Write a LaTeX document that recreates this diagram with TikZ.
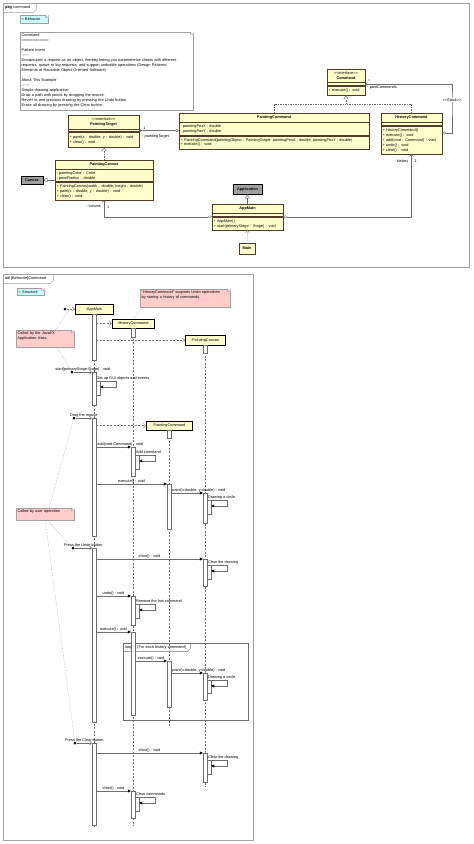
\documentclass[tikz,border=0pt]{standalone}
\usepackage{fontspec}
\setmainfont{Liberation Sans}[Ligatures=TeXOff]
\usetikzlibrary{positioning}
\usetikzlibrary{arrows.meta}
\usetikzlibrary{calc}

\definecolor{clsfill}{RGB}{255,255,204}
\definecolor{clsline}{RGB}{80,60,40}
\definecolor{notepink}{RGB}{255,204,204}
\definecolor{notecyan}{RGB}{204,255,255}
\definecolor{extfill}{RGB}{160,160,160}
\definecolor{wire}{RGB}{110,110,110}
\definecolor{framegray}{RGB}{160,160,160}

\begin{document}
\begin{tikzpicture}
		[x=1pt, y=-1pt,
		 every node/.style={font=\fontsize{3.85}{5}\selectfont, inner sep=0pt},
		 clsbox/.style={draw=clsline, fill=clsfill, inner xsep=1.5pt, text width=#1, align=left},
		 clshead/.style={clsbox=#1, align=center, anchor=north},
		 extcls/.style={draw=black, line width=0.8pt, fill=extfill, font=\fontsize{3.85}{5}\selectfont\bfseries},
		 gen/.style={draw=wire, -{Triangle[open, length=4pt, width=5pt]}},
		 realize/.style={gen, dash pattern=on 1.5pt off 1pt},
		 assoc/.style={draw=wire, {Diamond[open, length=4pt, width=3pt]}-{Straight Barb[length=2pt, width=4pt]}},
		 depend/.style={draw=wire, dash pattern=on 1pt off 1pt, -{Straight Barb[length=2pt, width=4pt]}},
		 umlframe/.style={draw=framegray, line width=0.6pt, anchor=north west},
		 umltab/.style={anchor=north west, inner xsep=2pt, align=left},
		 umlnote/.style={draw=framegray, anchor=north west, align=left, inner sep=1.5pt, text width=#1},
		 lifehead/.style={draw=black, line width=0.8pt, fill=clsfill},
		 actbar/.style={draw=wire, fill=white, minimum width=4pt, anchor=north},
		 lifeline/.style={draw=wire, dash pattern=on 2pt off 1.5pt},
		 syncmsg/.style={draw=wire, -{Triangle[length=3pt, width=3pt, color=black]}},
		 createmsg/.style={draw=wire, dash pattern=on 2pt off 1.5pt, -{Straight Barb[length=2pt, width=4pt]}},
		 foundmsg/.style={draw=wire, -{Straight Barb[length=2pt, width=4pt]}},
		 founddot/.style={circle, fill=black, minimum size=3pt},
		 notelink/.style={draw=framegray, dash pattern=on 0.5pt off 1pt},
		 msglabel/.style={inner sep=1pt},
		 fragbox/.style={draw=wire, anchor=north west}]
		\useasboundingbox (0,0) rectangle (474,844);
		\fill[white] (0,0) rectangle (474,844);

		\node[umlframe, minimum width=466, minimum height=264] (pkg) at (3,3) {};
		\node[umltab, text width=29pt, minimum height=9] (pkg-tab) at (pkg.north west) {\textbf{pkg} command};
		\draw[framegray] (pkg-tab.south west) -- ([xshift=-3pt]pkg-tab.south east) -- ([yshift=3pt]pkg-tab.south east) -- (pkg-tab.north east);

		\node[umlnote=25pt, fill=notecyan, minimum height=8] (beh) at (20,15) {< Behavior};
		\node[umlnote=170pt, fill=white] (desc) at (20,32) {Command\\
			============\\[5pt]
			Pattern Intent\\
			------\\
			Encapsulate a request as an object, thereby letting you parameterize clients with different\\
			requests, queue or log requests, and support undoable operations (Design Patterns:\\
			Elements of Reusable Object-Oriented Software).\\[5pt]
			About This Example\\
			------\\
			Simple drawing application:\\
			* Draw a path with points by dragging the mouse.\\
			* Revert to one previous drawing by pressing the Undo button.\\
			* Erase all drawing by pressing the Clear button.\rule[-2pt]{0pt}{0pt}};

		\node[clshead=35pt, minimum height=13] (cmd) at (346,69) {<<interface>>\\\textbf{Command}};
		\node[clsbox=35pt, minimum height=3, below=0pt of cmd] (cmd-a) {};
		\node[clsbox=35pt, minimum height=9, below=0pt of cmd-a] (cmd-o) {+ execute() : void};

		\node[clshead=68pt, minimum height=14] (ptg) at (103.5,115) {<<interface>>\\\textbf{PaintingTarget}};
		\node[clsbox=68pt, minimum height=2, below=0pt of ptg] (ptg-a) {};
		\node[clsbox=68pt, minimum height=15, below=0pt of ptg-a] (ptg-o) {+ paint(x : double, y : double) : void\\+ clear() : void};

		\node[clshead=187pt, minimum height=9] (pcmd) at (274,113) {\textbf{PaintingCommand}};
		\node[clsbox=187pt, minimum height=13, below=0pt of pcmd] (pcmd-a) {- paintingPosX : double\\- paintingPosY : double};
		\node[clsbox=187pt, minimum height=13, below=0pt of pcmd-a] (pcmd-o) {+ PaintingCommand(paintingObject : PaintingTarget, paintingPosX : double, paintingPosY : double)\\+ execute() : void};

		\node[clshead=58pt, minimum height=9] (hcmd) at (411.5,113) {\textbf{HistoryCommand}};
		\node[clsbox=58pt, minimum height=3, below=0pt of hcmd] (hcmd-a) {};
		\node[clsbox=58pt, minimum height=28, below=0pt of hcmd-a] (hcmd-o) {+ HistoryCommand()\\+ execute() : void\\+ add(cmd : Command) : void\\+ undo() : void\\+ clear() : void};

		\node[clshead=95pt, minimum height=9] (pcan) at (104,160) {\textbf{PaintingCanvas}};
		\node[clsbox=95pt, minimum height=12, below=0pt of pcan] (pcan-a) {- paintingColor : Color\\- pointRadius : double};
		\node[clsbox=95pt, minimum height=18, below=0pt of pcan-a] (pcan-o) {+ PaintingCanvas(width : double, height : double)\\+ paint(x : double, y : double) : void\\+ clear() : void};

		\node[clshead=68pt, minimum height=9] (app) at (247.5,204) {\textbf{AppMain}};
		\node[clsbox=68pt, minimum height=3, below=0pt of app] (app-a) {};
		\node[clsbox=68pt, minimum height=13, below=0pt of app-a] (app-o) {+ AppMain()\\+ start(primaryStage : Stage) : void};

		\node[extcls, minimum width=22, minimum height=8] (canvas) at (32,180) {Canvas};
		\node[extcls, minimum width=29, minimum height=10] (application) at (247.5,189) {Application};
		\node[draw=clsline, line width=0.7pt, fill=clsfill, minimum width=16, minimum height=11, font=\fontsize{3.85}{5}\selectfont\bfseries] (main) at (247,248.5) {Main};

		\draw[realize] (pcan.north) -- (pcan.north |- ptg-o.south);
		\draw[gen] (pcan.west |- canvas.east) -- (canvas.east);
		\draw[assoc] (pcmd.west |- ptg-a.east) -- (ptg-a.east);
		\node[anchor=south west] (r-pt1) at ([xshift=4pt, yshift=1pt]ptg-a.east) {1};
		\node[anchor=north west] (r-pt2) at ([xshift=3pt, yshift=-4pt]ptg-a.east) {- paintingTarget};

		\coordinate (rjoin) at (346,104);
		\draw[draw=wire, dash pattern=on 1.5pt off 1pt] (pcmd.north) |- (rjoin);
		\draw[draw=wire, dash pattern=on 1.5pt off 1pt] (hcmd.north) |- (rjoin);
		\draw[realize] (rjoin) -- (cmd-o.south);

		\coordinate (stk) at (452,100);
		\draw[assoc] ([yshift=7pt]hcmd-o.east) -| (stk) |- (cmd-a.east);
		\node[fill=white, inner sep=0.5pt] (r-stk) at (stk) {<<Stack>>};
		\node[anchor=south west] (r-pc1) at ([xshift=3pt, yshift=1pt]cmd-a.east) {*};
		\node[anchor=north west] (r-pc2) at ([xshift=2pt, yshift=-1pt]cmd-a.east) {- pastCommands};

		\draw[assoc] (app-o.north west) -| (pcan-o.south);
		\node[anchor=north east] (r-cv1) at ([xshift=-3pt, yshift=-5pt]pcan-o.south) {- canvas};
		\node[anchor=north west] (r-cv2) at ([xshift=3pt, yshift=-5pt]pcan-o.south) {1};
		\draw[assoc] (app-o.north east) -| (hcmd-o.south);
		\node[anchor=north east] (r-hs1) at ([xshift=-3pt, yshift=-5pt]hcmd-o.south) {- history};
		\node[anchor=north west] (r-hs2) at ([xshift=3pt, yshift=-5pt]hcmd-o.south) {1};
		\draw[gen] (app.north) -- (application.south);
		\draw[depend] (main.north) -- (app-o.south);

		\node[umlframe, minimum width=250, minimum height=566] (sd) at (3,274) {};
		\node[umltab, text width=46pt, minimum height=9] (sd-tab) at (sd.north west) {\textbf{sd} [Behavior]Command};
		\draw[framegray] (sd-tab.south west) -- ([xshift=-3pt]sd-tab.south east) -- ([yshift=3pt]sd-tab.south east) -- (sd-tab.north east);

		\node[umlnote=24pt, fill=notecyan, minimum height=7] (struct) at (17,288) {< Structure};
		\node[umlnote=87pt, fill=notepink] (hst) at (140,289) {"HistoryCommand" supports Undo operations\\by storing a history of commands.\rule[-7pt]{0pt}{0pt}};
		\node[umlnote=55pt, fill=notepink] (jfx) at (16,330) {Called by the JavaFX\\Application class.\rule[-6pt]{0pt}{0pt}};
		\node[umlnote=55pt, fill=notepink] (usr) at (16,508) {Called by user operation\rule[-6pt]{0pt}{0pt}};

		\foreach \n in {beh, desc, struct, hst, jfx, usr} {
			\fill[white] (\n.north east) -- ++(-3,0) -- ++(3,3) -- cycle;
			\draw[framegray] ([xshift=-3pt]\n.north east) |- ([yshift=-3pt]\n.north east) -- cycle;
		}

		\node[fragbox, minimum width=125, minimum height=77] (lp) at (123,643) {};
		\node[umltab, text width=63pt, minimum height=8] (lp-tab) at (lp.north west) {loop\hspace{5pt}[For each history command]};
		\draw[wire] (lp-tab.south west) -- ([xshift=-3pt]lp-tab.south east) -- ([yshift=3pt]lp-tab.south east) -- (lp-tab.north east);

		\node[lifehead, minimum width=38, minimum height=10] (am) at (94,309) {:AppMain};
		\node[lifehead, minimum width=42, minimum height=9] (hc) at (133,323.5) {:HistoryCommand};
		\node[lifehead, minimum width=40, minimum height=10] (pv) at (205,340) {:PaintingCanvas};
		\node[lifehead, minimum width=46, minimum height=9] (pm) at (169,425.5) {:PaintingCommand};

		\coordinate (am-end) at (94,827);
		\coordinate (hc-end) at (133,826);
		\coordinate (pm-end) at (169,726);
		\coordinate (pv-end) at (205,787);
		\draw[lifeline] (am) -- (am-end);
		\draw[lifeline] (hc) -- (hc-end);
		\draw[lifeline] (pm) -- (pm-end);
		\draw[lifeline] (pv) -- (pv-end);

		\node[actbar, minimum height=46] (a1) at (94,314) {};
		\node[actbar, minimum height=33] (a2) at (94,372) {};
		\node[actbar, minimum height=14] (a2s) at (98,381) {};
		\node[actbar, minimum height=118] (a3) at (94,418) {};
		\node[actbar, minimum height=174] (a4) at (94,548) {};
		\node[actbar, minimum height=82] (a5) at (94,743) {};
		\node[actbar, minimum height=9] (h0) at (133,328) {};
		\node[actbar, minimum height=29] (h1) at (133,447) {};
		\node[actbar, minimum height=14] (h1s) at (137,455) {};
		\node[actbar, minimum height=29] (h2) at (133,596) {};
		\node[actbar, minimum height=14] (h2s) at (137,604) {};
		\node[actbar, minimum height=83] (h3) at (133,632) {};
		\node[actbar, minimum height=27] (h4) at (133,791) {};
		\node[actbar, minimum height=14] (h4s) at (137,797) {};
		\node[actbar, minimum height=8] (c0) at (169,430) {};
		\node[actbar, minimum height=45] (c1) at (169,484) {};
		\node[actbar, minimum height=46] (c2) at (169,661) {};
		\node[actbar, minimum height=8] (v0) at (205,345) {};
		\node[actbar, minimum height=30] (v1) at (205,493) {};
		\node[actbar, minimum height=14] (v1s) at (209,500) {};
		\node[actbar, minimum height=27] (v2) at (205,559) {};
		\node[actbar, minimum height=14] (v2s) at (209,565) {};
		\node[actbar, minimum height=27] (v3) at (205,673) {};
		\node[actbar, minimum height=13] (v3s) at (209,680) {};
		\node[actbar, minimum height=29] (v4) at (205,753) {};
		\node[actbar, minimum height=14] (v4s) at (209,760) {};

		\node[founddot] (f0) at (65,309) {};
		\node[founddot] (s1) at (72,372) {};
		\node[founddot] (s2) at (74,418) {};
		\node[founddot] (s3) at (73,548) {};
		\node[founddot] (s4) at (75,743) {};

		\draw[createmsg] (f0) -- (am.west);
		\draw[createmsg] (a1.east |- hc.west) -- (hc.west);
		\draw[createmsg] (a1.east |- pv.west) -- (pv.west);
		\draw[createmsg] (a3.east |- pm.west) -- (pm.west);

		\draw[foundmsg] (s1) -- (a2.north west) node[msglabel, midway, above] (l-start) {start(primaryStage:Stage) : void};
		\draw[foundmsg] (s2) -- (a3.north west) node[msglabel, midway, above] (l-drag) {Drag the mouse};
		\draw[foundmsg] (s3) -- (a4.north west) node[msglabel, midway, above] (l-undo) {Press the Undo button};
		\draw[foundmsg] (s4) -- (a5.north west) node[msglabel, midway, above] (l-clear) {Press the Clear button};

		\draw[syncmsg] (a2s.north west) -- ++(20,0) |- ([yshift=-6pt]a2s.north east);
		\node[msglabel, anchor=south west] (l-gui) at (a2s.north west) {Set up GUI objects and events};

		\draw[syncmsg] (a3.east |- h1.north) -- (h1.north west) node[msglabel, pos=0, anchor=south west] (l-add) {add(cmd:Command) : void};
		\draw[syncmsg] (h1s.north west) -- ++(20,0) |- ([yshift=-6pt]h1s.north east);
		\node[msglabel, anchor=south west] (l-addc) at (h1s.north west) {Add command};
		\draw[syncmsg] (a3.east |- c1.north) -- (c1.north west) node[msglabel, midway, above] (l-exe1) {execute() : void};
		\draw[syncmsg] (c1.east |- v1.north) -- (v1.north west) node[msglabel, pos=0, anchor=south west] (l-paint1) {paint(x:double, y:double) : void};
		\draw[syncmsg] (v1s.north west) -- ++(20,0) |- ([yshift=-6pt]v1s.north east);
		\node[msglabel, anchor=south west] (l-circ1) at (v1s.north west) {Drawing a circle};

		\draw[syncmsg] (a4.east |- v2.north) -- (v2.north west) node[msglabel, midway, above] (l-clr1) {clear() : void};
		\draw[syncmsg] (v2s.north west) -- ++(20,0) |- ([yshift=-6pt]v2s.north east);
		\node[msglabel, anchor=south west] (l-clrd1) at (v2s.north west) {Clear the drawing};
		\draw[syncmsg] (a4.east |- h2.north) -- (h2.north west) node[msglabel, midway, above] (l-undo2) {undo() : void};
		\draw[syncmsg] (h2s.north west) -- ++(20,0) |- ([yshift=-6pt]h2s.north east);
		\node[msglabel, anchor=south west] (l-rem) at (h2s.north west) {Remove the last command};
		\draw[syncmsg] (a4.east |- h3.north) -- (h3.north west) node[msglabel, midway, above] (l-exe2) {execute() : void};
		\draw[syncmsg] (h3.east |- c2.north) -- (c2.north west) node[msglabel, midway, above] (l-exe3) {execute() : void};
		\draw[syncmsg] (c2.east |- v3.north) -- (v3.north west) node[msglabel, pos=0, anchor=south west] (l-paint2) {paint(x:double, y:double) : void};
		\draw[syncmsg] (v3s.north west) -- ++(20,0) |- ([yshift=-6pt]v3s.north east);
		\node[msglabel, anchor=south west] (l-circ2) at (v3s.north west) {Drawing a circle};

		\draw[syncmsg] (a5.east |- v4.north) -- (v4.north west) node[msglabel, midway, above] (l-clr2) {clear() : void};
		\draw[syncmsg] (v4s.north west) -- ++(20,0) |- ([yshift=-6pt]v4s.north east);
		\node[msglabel, anchor=south west] (l-clrd2) at (v4s.north west) {Clear the drawing};
		\draw[syncmsg] (a5.east |- h4.north) -- (h4.north west) node[msglabel, midway, above] (l-clr3) {clear() : void};
		\draw[syncmsg] (h4s.north west) -- ++(20,0) |- ([yshift=-6pt]h4s.north east);
		\node[msglabel, anchor=south west] (l-clrc) at (h4s.north west) {Clear commands};

		\draw[notelink] ($(jfx.north)!0.35!(jfx.north east)$) -- ($(f0)!0.5!(am.west)$);
		\draw[notelink] ($(jfx.south)!0.4!(jfx.south east)$) -- (s1);
		\draw[notelink] ([xshift=3pt]hst.south west) -- (hc.north);
		\draw[notelink] ([xshift=4pt]usr.north) -- (s2);
		\draw[notelink] ([xshift=2pt]usr.south) -- (s3);
		\draw[notelink] (usr.south) -- (s4);
	\end{tikzpicture}
\end{document}
